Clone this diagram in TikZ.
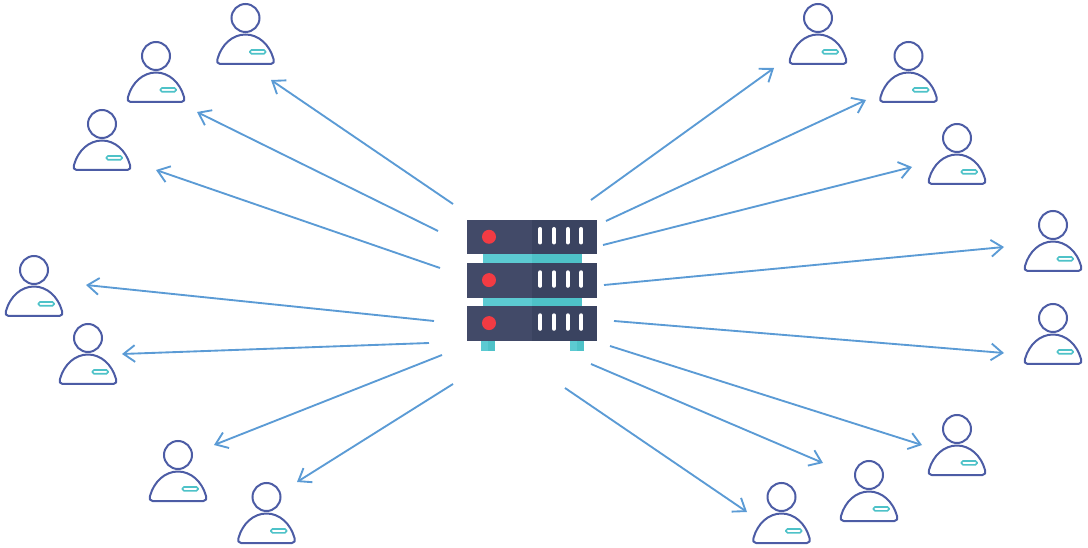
\documentclass[tikz,border=0pt]{standalone}
\usetikzlibrary{arrows.meta}
\definecolor{rackL}{HTML}{424A68}
\definecolor{rackR}{HTML}{3A4360}
\definecolor{tealL}{HTML}{5CCAD2}
\definecolor{tealR}{HTML}{4EC2C8}
\definecolor{redled}{HTML}{F23B43}
\definecolor{wire}{HTML}{5B9BD5}
\definecolor{userline}{HTML}{4C5CA5}
\tikzset{
  x=0.75pt,y=-0.75pt,
  wirearrow/.style={draw=wire,line width=1.4pt,-{Straight Barb[length=8.5pt,width=12.5pt,line width=1.4pt]}},
  userstroke/.style={draw=userline,line width=1.5pt,fill=white},
  badge/.style={draw=tealR,line width=1.2pt,fill=white,rounded corners=1.2pt},
  person/.pic={
    \draw[userstroke] (0,0) circle (14);
    \draw[userstroke,line join=round] (-25.5,46) .. controls (-28.2,46) and (-29,43.5) .. (-28,41)
      .. controls (-24,26.5) and (-13,16.5) .. (0,16.5)
      .. controls (13,16.5) and (24,26.5) .. (28,41)
      .. controls (29,43.5) and (28.2,46) .. (25.5,46) -- cycle;
    \draw[badge] (4.5,32) rectangle (20,35.8);
  },
}
\newcommand{\rackunit}[2]{%
  \fill[rackL] (467.3,#1) rectangle (532,#1+34.5);
  \fill[rackR] (532,#1) rectangle (597,#1+34.5);
  \fill[redled] (489,#1+16.8) circle (7);
  \foreach \bx in {540.3,554,567.7,581.3}
    \draw[white,line width=3pt,line cap=round] (\bx,#1+9) -- (\bx,#1+22.5);
}
\begin{document}
\begin{tikzpicture}
\useasboundingbox (0,0) rectangle (1088,548);
% users
\foreach \n/\cx/\cy in {a/245.5/18,b/156/56,c/102/124,d/34/270,e/88/338,f/178/455,g/266.5/497,
  h/818/18,i/908.5/56,j/957/138,k/1053/225,l/1053/318,m/957/429,n/869/475,o/781.5/497}
  \pic (\n) at (\cx,\cy) {person};
% server
\fill[tealL] (483,254.5) rectangle (532,263.3);
\fill[tealR] (532,254.5) rectangle (581.7,263.3);
\fill[tealL] (483,297.7) rectangle (532,306.3);
\fill[tealR] (532,297.7) rectangle (581.7,306.3);
\fill[tealL] (481,340) rectangle (488,350.7);
\fill[tealR] (488,340) rectangle (494.7,350.7);
\fill[tealL] (570,340) rectangle (577,350.7);
\fill[tealR] (577,340) rectangle (583.7,350.7);
\rackunit{220}{}
\rackunit{263.3}{}
\rackunit{306.3}{}
% connector ends
\foreach \n/\sx/\sy/\tx/\ty in {
  1/453/204/271/80, 2/438/231/197/112, 3/440/268/156/170, 4/434/321/86/285,
  5/429/343/122/354, 6/442/355/214/445, 7/453/384/297/482,
  8/591/200/774/68, 9/606/221/866/100, 10/603/245/912/167, 11/604/285/1004/247,
  12/614/321/1004/353, 13/610/346/922/445, 14/591/364/823/463, 15/565/388/747/512}
{
  \coordinate (s\n) at (\sx,\sy);
  \coordinate (t\n) at (\tx,\ty);
  \draw[wirearrow] (s\n) -- (t\n);
}
\end{tikzpicture}
\end{document}
